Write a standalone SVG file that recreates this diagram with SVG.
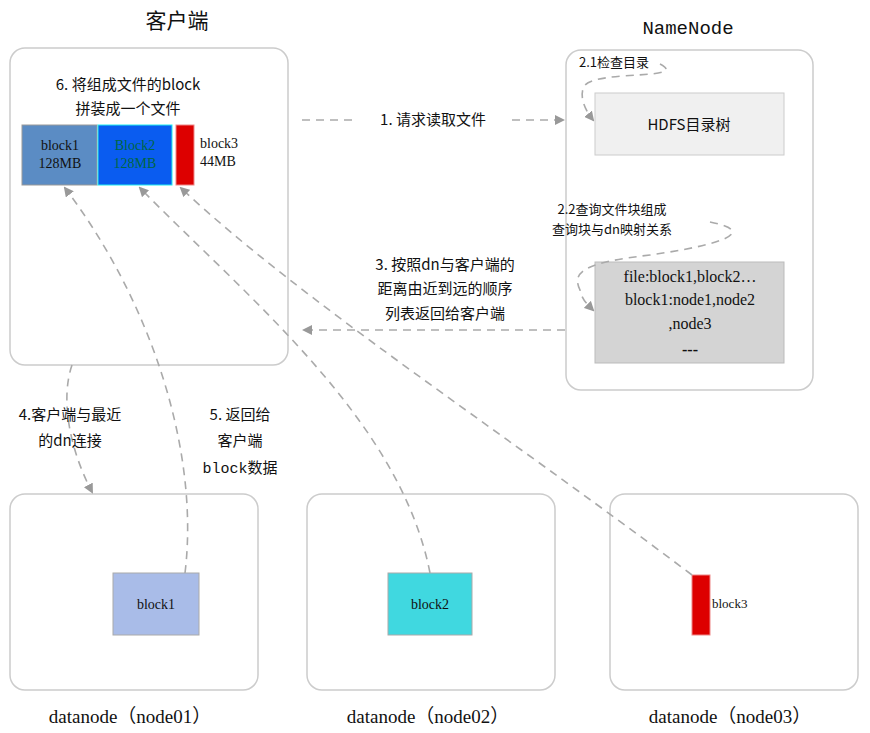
<svg xmlns="http://www.w3.org/2000/svg" width="870" height="733" viewBox="0 0 870 733">
<defs>
<marker id="ah" markerWidth="10" markerHeight="10" refX="8" refY="5" orient="auto" markerUnits="userSpaceOnUse"><path d="M0,0 L10,5 L0,10 z" fill="#999"/></marker>
<style>
.box{fill:#fff;stroke:#ccc;stroke-width:1.5}
.c{stroke:#aaa;stroke-width:1.6;stroke-dasharray:8,6;fill:none;marker-end:url(#ah)}
.t{font-family:"Noto Sans CJK SC",sans-serif;font-size:15px;fill:#111}
.s{font-family:"Liberation Serif","Noto Sans CJK SC",serif;font-size:14px;fill:#111}
.m{font-family:"Liberation Mono","Noto Sans CJK SC",monospace;font-size:15px;fill:#111}
.big{font-size:19px}
.sm{font-size:13px}
.g{font-size:16px}
</style>
</defs>
<rect width="870" height="733" fill="#fff"/>
<g id="client">
<rect class="box" x="10" y="48" width="278" height="317" rx="15"/>
<text class="t" x="177" y="28" text-anchor="middle" style="font-size:21px">客户端</text>
<text class="t" x="128" y="90" text-anchor="middle">6. 将组成文件的block</text>
<text class="t" x="128" y="114" text-anchor="middle">拼装成一个文件</text>
<rect x="22" y="125" width="75" height="60" fill="#5b8cc4" stroke="#999"/>
<text class="s" x="60" y="150" text-anchor="middle">block1</text>
<text class="s" x="60" y="168" text-anchor="middle">128MB</text>
<rect x="98" y="125" width="74" height="60" fill="#0a5cf0" stroke="#2ee"/>
<text class="s" x="135" y="150" text-anchor="middle" style="fill:#064">Block2</text>
<text class="s" x="135" y="168" text-anchor="middle" style="fill:#064">128MB</text>
<rect x="176" y="125" width="18" height="60" fill="#d00" stroke="#e88"/>
<text class="s" x="200" y="148">block3</text>
<text class="s" x="200" y="166">44MB</text>
</g>
<g id="namenode">
<rect class="box" x="566" y="50" width="247" height="340" rx="15"/>
<text class="m" x="688" y="34" text-anchor="middle" style="font-size:19px">NameNode</text>
<rect x="595" y="93" width="189" height="62" fill="#f0f0f0" stroke="#ccc"/>
<text class="t" x="689" y="130" text-anchor="middle">HDFS目录树</text>
<rect x="595" y="262" width="189" height="101" fill="#d4d4d4" stroke="#bbb"/>
<text class="s g" x="690" y="282" text-anchor="middle">file:block1,block2…</text>
<text class="s g" x="690" y="305" text-anchor="middle">block1:node1,node2</text>
<text class="s g" x="690" y="329" text-anchor="middle">,node3</text>
<text class="s g" x="690" y="355" text-anchor="middle" font-weight="bold">---</text>
<text class="t sm" x="614" y="67" text-anchor="middle">2.1检查目录</text>
<text class="t sm" x="612" y="214" text-anchor="middle">2.2查询文件块组成</text>
<text class="t sm" x="612" y="234" text-anchor="middle">查询块与dn映射关系</text>
</g>
<g id="dn1">
<rect class="box" x="10" y="494" width="248" height="196" rx="15"/>
<rect x="113" y="573" width="86" height="62" fill="#a9bce8" stroke="#aaa"/>
<text class="s" x="156" y="609" text-anchor="middle">block1</text>
<text class="s big" x="130" y="723" text-anchor="middle">datanode（node01）</text>
</g>
<g id="dn2">
<rect class="box" x="307" y="494" width="248" height="196" rx="15"/>
<rect x="388" y="573" width="84" height="62" fill="#40d8e0" stroke="#aaa"/>
<text class="s" x="430" y="609" text-anchor="middle">block2</text>
<text class="s big" x="428" y="723" text-anchor="middle">datanode（node02）</text>
</g>
<g id="dn3">
<rect class="box" x="610" y="494" width="248" height="196" rx="15"/>
<rect x="692" y="575" width="18" height="60" fill="#d00" stroke="#e88"/>
<text class="s sm" x="712" y="608">block3</text>
<text class="s big" x="730" y="723" text-anchor="middle">datanode（node03）</text>
</g>
<g id="connectors">
<path class="c" d="M302,120 H563"/>
<rect x="358" y="108" width="150" height="22" fill="#fff"/>
<text class="t" x="433" y="125" text-anchor="middle">1. 请求读取文件</text>
<path class="c" d="M565,330 H304"/>
<text class="t" x="445" y="270" text-anchor="middle">3. 按照dn与客户端的</text>
<text class="t" x="445" y="294" text-anchor="middle">距离由近到远的顺序</text>
<text class="t" x="445" y="319" text-anchor="middle">列表返回给客户端</text>
<path class="c" d="M660,64 C690,80 600,70 585,85 C578,95 585,110 593,120"/>
<path class="c" d="M710,222 C760,232 720,245 650,255 C590,262 570,270 580,290 C582,300 588,305 593,310"/>
<path class="c" d="M72,365 C60,400 70,450 92,492"/>
<path class="c" d="M185,573 C200,450 150,300 65,188"/>
<path class="c" d="M430,573 C400,420 250,300 140,188"/>
<path class="c" d="M692,575 C500,430 300,300 181,188"/>
<text class="t" x="70" y="420" text-anchor="middle">4.客户端与最近</text>
<text class="t" x="70" y="446" text-anchor="middle">的dn连接</text>
<text class="t" x="240" y="420" text-anchor="middle">5. 返回给</text>
<text class="t" x="240" y="446" text-anchor="middle">客户端</text>
<text class="m" x="240" y="473" text-anchor="middle">block数据</text>
</g>
</svg>
